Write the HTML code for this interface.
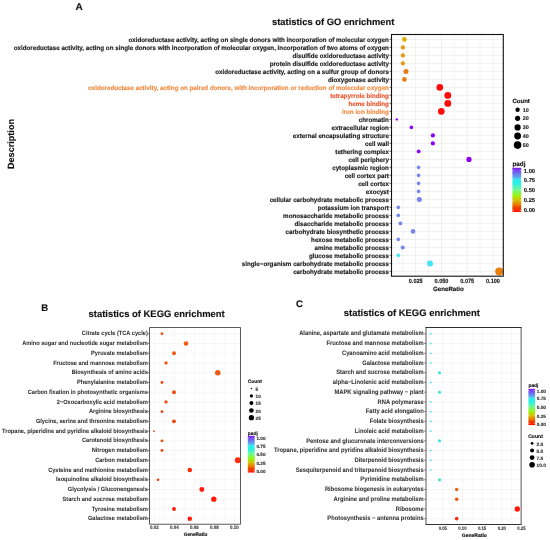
<!DOCTYPE html>
<html><head><meta charset="utf-8"><title>GO / KEGG enrichment</title>
<style>
html,body{margin:0;padding:0;background:#fff;}
body{width:550px;height:540px;overflow:hidden;}
svg{display:block;font-family:"Liberation Sans", Arial, Helvetica, sans-serif;}
#wrap{filter:blur(0.3px);}
text{stroke:currentColor;stroke-width:0.14px;text-rendering:geometricPrecision;}
</style></head>
<body>
<div id="wrap"><svg width="550" height="540" viewBox="0 0 550 540">
<rect x="0" y="0" width="550" height="540" fill="#fff"/>
<defs><linearGradient id="pg" x1="0" y1="0" x2="0" y2="1"><stop offset="0.000" stop-color="#8000f0"/><stop offset="0.017" stop-color="#7e23f0"/><stop offset="0.033" stop-color="#7c34f0"/><stop offset="0.050" stop-color="#7a41f0"/><stop offset="0.067" stop-color="#774cf0"/><stop offset="0.083" stop-color="#7457f0"/><stop offset="0.100" stop-color="#7060f0"/><stop offset="0.117" stop-color="#6f6bf0"/><stop offset="0.133" stop-color="#6e76f0"/><stop offset="0.150" stop-color="#6b81f0"/><stop offset="0.167" stop-color="#698cf0"/><stop offset="0.183" stop-color="#6596f0"/><stop offset="0.200" stop-color="#60a0f0"/><stop offset="0.217" stop-color="#5cb1f0"/><stop offset="0.233" stop-color="#55c1f0"/><stop offset="0.250" stop-color="#4bd2f0"/><stop offset="0.267" stop-color="#3ae3f0"/><stop offset="0.283" stop-color="#21f0ef"/><stop offset="0.300" stop-color="#25f0eb"/><stop offset="0.317" stop-color="#28f0e7"/><stop offset="0.333" stop-color="#2af0e3"/><stop offset="0.350" stop-color="#2df0df"/><stop offset="0.367" stop-color="#2ff0db"/><stop offset="0.383" stop-color="#33f0d6"/><stop offset="0.400" stop-color="#40f2cd"/><stop offset="0.417" stop-color="#4af3c4"/><stop offset="0.433" stop-color="#51f4ba"/><stop offset="0.450" stop-color="#58f6b1"/><stop offset="0.467" stop-color="#5df7a8"/><stop offset="0.483" stop-color="#62f89d"/><stop offset="0.500" stop-color="#6df88b"/><stop offset="0.517" stop-color="#75f879"/><stop offset="0.533" stop-color="#7bf865"/><stop offset="0.550" stop-color="#80f850"/><stop offset="0.567" stop-color="#87f747"/><stop offset="0.583" stop-color="#8df53d"/><stop offset="0.600" stop-color="#93f432"/><stop offset="0.617" stop-color="#99f224"/><stop offset="0.633" stop-color="#9ef10f"/><stop offset="0.650" stop-color="#a7eb00"/><stop offset="0.667" stop-color="#b1e200"/><stop offset="0.683" stop-color="#bad900"/><stop offset="0.700" stop-color="#c3d000"/><stop offset="0.717" stop-color="#cac700"/><stop offset="0.733" stop-color="#d1be00"/><stop offset="0.750" stop-color="#d8b300"/><stop offset="0.767" stop-color="#dea800"/><stop offset="0.783" stop-color="#e39c00"/><stop offset="0.800" stop-color="#e89000"/><stop offset="0.817" stop-color="#ea8500"/><stop offset="0.833" stop-color="#ec7900"/><stop offset="0.850" stop-color="#ed6d00"/><stop offset="0.867" stop-color="#ee6000"/><stop offset="0.883" stop-color="#ef5100"/><stop offset="0.900" stop-color="#f04000"/><stop offset="0.917" stop-color="#f33a00"/><stop offset="0.933" stop-color="#f53400"/><stop offset="0.950" stop-color="#f82d00"/><stop offset="0.967" stop-color="#fa2400"/><stop offset="0.983" stop-color="#fd1700"/><stop offset="1.000" stop-color="#ff0000"/></linearGradient></defs>
<line x1="402.82" y1="34.50" x2="402.82" y2="276.20" stroke="#e6e6e6" stroke-width="0.45"/>
<line x1="428.57" y1="34.50" x2="428.57" y2="276.20" stroke="#e6e6e6" stroke-width="0.45"/>
<line x1="454.32" y1="34.50" x2="454.32" y2="276.20" stroke="#e6e6e6" stroke-width="0.45"/>
<line x1="480.07" y1="34.50" x2="480.07" y2="276.20" stroke="#e6e6e6" stroke-width="0.45"/>
<line x1="415.70" y1="34.50" x2="415.70" y2="276.20" stroke="#e6e6e6" stroke-width="0.6"/>
<line x1="441.45" y1="34.50" x2="441.45" y2="276.20" stroke="#e6e6e6" stroke-width="0.6"/>
<line x1="467.20" y1="34.50" x2="467.20" y2="276.20" stroke="#e6e6e6" stroke-width="0.6"/>
<line x1="492.95" y1="34.50" x2="492.95" y2="276.20" stroke="#e6e6e6" stroke-width="0.6"/>
<line x1="391.50" y1="39.40" x2="503.30" y2="39.40" stroke="#e6e6e6" stroke-width="0.6"/>
<line x1="391.50" y1="47.40" x2="503.30" y2="47.40" stroke="#e6e6e6" stroke-width="0.6"/>
<line x1="391.50" y1="55.40" x2="503.30" y2="55.40" stroke="#e6e6e6" stroke-width="0.6"/>
<line x1="391.50" y1="63.40" x2="503.30" y2="63.40" stroke="#e6e6e6" stroke-width="0.6"/>
<line x1="391.50" y1="71.40" x2="503.30" y2="71.40" stroke="#e6e6e6" stroke-width="0.6"/>
<line x1="391.50" y1="79.40" x2="503.30" y2="79.40" stroke="#e6e6e6" stroke-width="0.6"/>
<line x1="391.50" y1="87.40" x2="503.30" y2="87.40" stroke="#e6e6e6" stroke-width="0.6"/>
<line x1="391.50" y1="95.40" x2="503.30" y2="95.40" stroke="#e6e6e6" stroke-width="0.6"/>
<line x1="391.50" y1="103.40" x2="503.30" y2="103.40" stroke="#e6e6e6" stroke-width="0.6"/>
<line x1="391.50" y1="111.40" x2="503.30" y2="111.40" stroke="#e6e6e6" stroke-width="0.6"/>
<line x1="391.50" y1="119.40" x2="503.30" y2="119.40" stroke="#e6e6e6" stroke-width="0.6"/>
<line x1="391.50" y1="127.40" x2="503.30" y2="127.40" stroke="#e6e6e6" stroke-width="0.6"/>
<line x1="391.50" y1="135.40" x2="503.30" y2="135.40" stroke="#e6e6e6" stroke-width="0.6"/>
<line x1="391.50" y1="143.40" x2="503.30" y2="143.40" stroke="#e6e6e6" stroke-width="0.6"/>
<line x1="391.50" y1="151.40" x2="503.30" y2="151.40" stroke="#e6e6e6" stroke-width="0.6"/>
<line x1="391.50" y1="159.40" x2="503.30" y2="159.40" stroke="#e6e6e6" stroke-width="0.6"/>
<line x1="391.50" y1="167.40" x2="503.30" y2="167.40" stroke="#e6e6e6" stroke-width="0.6"/>
<line x1="391.50" y1="175.40" x2="503.30" y2="175.40" stroke="#e6e6e6" stroke-width="0.6"/>
<line x1="391.50" y1="183.40" x2="503.30" y2="183.40" stroke="#e6e6e6" stroke-width="0.6"/>
<line x1="391.50" y1="191.40" x2="503.30" y2="191.40" stroke="#e6e6e6" stroke-width="0.6"/>
<line x1="391.50" y1="199.40" x2="503.30" y2="199.40" stroke="#e6e6e6" stroke-width="0.6"/>
<line x1="391.50" y1="207.40" x2="503.30" y2="207.40" stroke="#e6e6e6" stroke-width="0.6"/>
<line x1="391.50" y1="215.40" x2="503.30" y2="215.40" stroke="#e6e6e6" stroke-width="0.6"/>
<line x1="391.50" y1="223.40" x2="503.30" y2="223.40" stroke="#e6e6e6" stroke-width="0.6"/>
<line x1="391.50" y1="231.40" x2="503.30" y2="231.40" stroke="#e6e6e6" stroke-width="0.6"/>
<line x1="391.50" y1="239.40" x2="503.30" y2="239.40" stroke="#e6e6e6" stroke-width="0.6"/>
<line x1="391.50" y1="247.40" x2="503.30" y2="247.40" stroke="#e6e6e6" stroke-width="0.6"/>
<line x1="391.50" y1="255.40" x2="503.30" y2="255.40" stroke="#e6e6e6" stroke-width="0.6"/>
<line x1="391.50" y1="263.40" x2="503.30" y2="263.40" stroke="#e6e6e6" stroke-width="0.6"/>
<line x1="391.50" y1="271.40" x2="503.30" y2="271.40" stroke="#e6e6e6" stroke-width="0.6"/>
<circle cx="404.40" cy="39.40" r="2.35" fill="#d6b000"/>
<circle cx="402.90" cy="47.40" r="2.15" fill="#e39a12"/>
<circle cx="402.90" cy="55.40" r="2.15" fill="#e39a12"/>
<circle cx="402.90" cy="63.40" r="2.15" fill="#e39a12"/>
<circle cx="406.00" cy="71.40" r="2.50" fill="#e87a12"/>
<circle cx="404.40" cy="79.40" r="2.30" fill="#e87a12"/>
<circle cx="439.80" cy="87.40" r="3.30" fill="#ff0a0a"/>
<circle cx="447.80" cy="95.40" r="3.40" fill="#ff0a0a"/>
<circle cx="447.80" cy="103.40" r="3.40" fill="#ff0a0a"/>
<circle cx="441.30" cy="111.40" r="3.30" fill="#ff0a0a"/>
<circle cx="396.80" cy="119.40" r="1.20" fill="#8a00f5"/>
<circle cx="411.40" cy="127.40" r="1.80" fill="#8a00f5"/>
<circle cx="432.90" cy="135.40" r="2.10" fill="#8a00f5"/>
<circle cx="432.90" cy="143.40" r="2.10" fill="#8a00f5"/>
<circle cx="418.70" cy="151.40" r="1.90" fill="#8a00f5"/>
<circle cx="469.00" cy="159.40" r="2.60" fill="#8a00f5"/>
<circle cx="418.60" cy="167.40" r="1.80" fill="#7585f0"/>
<circle cx="418.60" cy="175.40" r="1.80" fill="#7585f0"/>
<circle cx="418.60" cy="183.40" r="1.80" fill="#7585f0"/>
<circle cx="418.60" cy="191.40" r="1.80" fill="#7585f0"/>
<circle cx="419.30" cy="199.40" r="2.50" fill="#7585f0"/>
<circle cx="398.30" cy="207.40" r="1.80" fill="#7585f0"/>
<circle cx="398.30" cy="215.40" r="1.80" fill="#7585f0"/>
<circle cx="400.40" cy="223.40" r="1.90" fill="#7585f0"/>
<circle cx="413.00" cy="231.40" r="2.30" fill="#7585f0"/>
<circle cx="398.30" cy="239.40" r="1.80" fill="#7585f0"/>
<circle cx="402.70" cy="247.40" r="2.00" fill="#7585f0"/>
<circle cx="398.30" cy="255.40" r="1.80" fill="#45e4f5"/>
<circle cx="430.00" cy="263.40" r="3.00" fill="#45e4f5"/>
<circle cx="499.20" cy="271.40" r="4.00" fill="#e8800a"/>
<rect x="391.50" y="34.50" width="111.80" height="241.70" fill="none" stroke="#111" stroke-width="1.1"/>
<line x1="389.50" y1="39.40" x2="391.50" y2="39.40" stroke="#111" stroke-width="0.6"/>
<text x="388.90" y="41.57" font-size="6.531" text-anchor="end" fill="#1a1a1a" color="#1a1a1a" font-weight="bold" textLength="260.48" lengthAdjust="spacingAndGlyphs">oxidoreductase activity, acting on single donors with incorporation of molecular oxygen</text>
<line x1="389.50" y1="47.40" x2="391.50" y2="47.40" stroke="#111" stroke-width="0.6"/>
<text x="388.90" y="49.57" font-size="6.531" text-anchor="end" fill="#1a1a1a" color="#1a1a1a" font-weight="bold" textLength="375.21" lengthAdjust="spacingAndGlyphs">oxidoreductase activity, acting on single donors with incorporation of molecular oxygen, incorporation of two atoms of oxygen</text>
<line x1="389.50" y1="55.40" x2="391.50" y2="55.40" stroke="#111" stroke-width="0.6"/>
<text x="388.90" y="57.57" font-size="6.531" text-anchor="end" fill="#1a1a1a" color="#1a1a1a" font-weight="bold" textLength="96.44" lengthAdjust="spacingAndGlyphs">disulfide oxidoreductase activity</text>
<line x1="389.50" y1="63.40" x2="391.50" y2="63.40" stroke="#111" stroke-width="0.6"/>
<text x="388.90" y="65.57" font-size="6.531" text-anchor="end" fill="#1a1a1a" color="#1a1a1a" font-weight="bold" textLength="119.25" lengthAdjust="spacingAndGlyphs">protein disulfide oxidoreductase activity</text>
<line x1="389.50" y1="71.40" x2="391.50" y2="71.40" stroke="#111" stroke-width="0.6"/>
<text x="388.90" y="73.57" font-size="6.531" text-anchor="end" fill="#1a1a1a" color="#1a1a1a" font-weight="bold" textLength="173.72" lengthAdjust="spacingAndGlyphs">oxidoreductase activity, acting on a sulfur group of donors</text>
<line x1="389.50" y1="79.40" x2="391.50" y2="79.40" stroke="#111" stroke-width="0.6"/>
<text x="388.90" y="81.57" font-size="6.531" text-anchor="end" fill="#1a1a1a" color="#1a1a1a" font-weight="bold" textLength="60.85" lengthAdjust="spacingAndGlyphs">dioxygenase activity</text>
<line x1="389.50" y1="87.40" x2="391.50" y2="87.40" stroke="#111" stroke-width="0.6"/>
<text x="388.90" y="89.57" font-size="6.531" text-anchor="end" fill="#f08c44" color="#f08c44" font-weight="bold" textLength="300.91" lengthAdjust="spacingAndGlyphs">oxidoreductase activity, acting on paired donors, with incorporation or reduction of molecular oxygen</text>
<line x1="389.50" y1="95.40" x2="391.50" y2="95.40" stroke="#111" stroke-width="0.6"/>
<text x="388.90" y="97.57" font-size="6.531" text-anchor="end" fill="#e8552c" color="#e8552c" font-weight="bold" textLength="58.75" lengthAdjust="spacingAndGlyphs">tetrapyrrole binding</text>
<line x1="389.50" y1="103.40" x2="391.50" y2="103.40" stroke="#111" stroke-width="0.6"/>
<text x="388.90" y="105.57" font-size="6.531" text-anchor="end" fill="#e8552c" color="#e8552c" font-weight="bold" textLength="40.43" lengthAdjust="spacingAndGlyphs">heme binding</text>
<line x1="389.50" y1="111.40" x2="391.50" y2="111.40" stroke="#111" stroke-width="0.6"/>
<text x="388.90" y="113.57" font-size="6.531" text-anchor="end" fill="#f08c44" color="#f08c44" font-weight="bold" textLength="46.98" lengthAdjust="spacingAndGlyphs">iron ion binding</text>
<line x1="389.50" y1="119.40" x2="391.50" y2="119.40" stroke="#111" stroke-width="0.6"/>
<text x="388.90" y="121.57" font-size="6.531" text-anchor="end" fill="#1a1a1a" color="#1a1a1a" font-weight="bold" textLength="30.07" lengthAdjust="spacingAndGlyphs">chromatin</text>
<line x1="389.50" y1="127.40" x2="391.50" y2="127.40" stroke="#111" stroke-width="0.6"/>
<text x="388.90" y="129.57" font-size="6.531" text-anchor="end" fill="#1a1a1a" color="#1a1a1a" font-weight="bold" textLength="57.39" lengthAdjust="spacingAndGlyphs">extracellular region</text>
<line x1="389.50" y1="135.40" x2="391.50" y2="135.40" stroke="#111" stroke-width="0.6"/>
<text x="388.90" y="137.57" font-size="6.531" text-anchor="end" fill="#1a1a1a" color="#1a1a1a" font-weight="bold" textLength="96.1" lengthAdjust="spacingAndGlyphs">external encapsulating structure</text>
<line x1="389.50" y1="143.40" x2="391.50" y2="143.40" stroke="#111" stroke-width="0.6"/>
<text x="388.90" y="145.57" font-size="6.531" text-anchor="end" fill="#1a1a1a" color="#1a1a1a" font-weight="bold" textLength="23.86" lengthAdjust="spacingAndGlyphs">cell wall</text>
<line x1="389.50" y1="151.40" x2="391.50" y2="151.40" stroke="#111" stroke-width="0.6"/>
<text x="388.90" y="153.57" font-size="6.531" text-anchor="end" fill="#1a1a1a" color="#1a1a1a" font-weight="bold" textLength="53.57" lengthAdjust="spacingAndGlyphs">tethering complex</text>
<line x1="389.50" y1="159.40" x2="391.50" y2="159.40" stroke="#111" stroke-width="0.6"/>
<text x="388.90" y="161.57" font-size="6.531" text-anchor="end" fill="#1a1a1a" color="#1a1a1a" font-weight="bold" textLength="40.45" lengthAdjust="spacingAndGlyphs">cell periphery</text>
<line x1="389.50" y1="167.40" x2="391.50" y2="167.40" stroke="#111" stroke-width="0.6"/>
<text x="388.90" y="169.57" font-size="6.531" text-anchor="end" fill="#1a1a1a" color="#1a1a1a" font-weight="bold" textLength="56.69" lengthAdjust="spacingAndGlyphs">cytoplasmic region</text>
<line x1="389.50" y1="175.40" x2="391.50" y2="175.40" stroke="#111" stroke-width="0.6"/>
<text x="388.90" y="177.57" font-size="6.531" text-anchor="end" fill="#1a1a1a" color="#1a1a1a" font-weight="bold" textLength="44.25" lengthAdjust="spacingAndGlyphs">cell cortex part</text>
<line x1="389.50" y1="183.40" x2="391.50" y2="183.40" stroke="#111" stroke-width="0.6"/>
<text x="388.90" y="185.57" font-size="6.531" text-anchor="end" fill="#1a1a1a" color="#1a1a1a" font-weight="bold" textLength="30.77" lengthAdjust="spacingAndGlyphs">cell cortex</text>
<line x1="389.50" y1="191.40" x2="391.50" y2="191.40" stroke="#111" stroke-width="0.6"/>
<text x="388.90" y="193.57" font-size="6.531" text-anchor="end" fill="#1a1a1a" color="#1a1a1a" font-weight="bold" textLength="23.17" lengthAdjust="spacingAndGlyphs">exocyst</text>
<line x1="389.50" y1="199.40" x2="391.50" y2="199.40" stroke="#111" stroke-width="0.6"/>
<text x="388.90" y="201.57" font-size="6.531" text-anchor="end" fill="#1a1a1a" color="#1a1a1a" font-weight="bold" textLength="119.27" lengthAdjust="spacingAndGlyphs">cellular carbohydrate metabolic process</text>
<line x1="389.50" y1="207.40" x2="391.50" y2="207.40" stroke="#111" stroke-width="0.6"/>
<text x="388.90" y="209.57" font-size="6.531" text-anchor="end" fill="#1a1a1a" color="#1a1a1a" font-weight="bold" textLength="71.19" lengthAdjust="spacingAndGlyphs">potassium ion transport</text>
<line x1="389.50" y1="215.40" x2="391.50" y2="215.40" stroke="#111" stroke-width="0.6"/>
<text x="388.90" y="217.57" font-size="6.531" text-anchor="end" fill="#1a1a1a" color="#1a1a1a" font-weight="bold" textLength="105.78" lengthAdjust="spacingAndGlyphs">monosaccharide metabolic process</text>
<line x1="389.50" y1="223.40" x2="391.50" y2="223.40" stroke="#111" stroke-width="0.6"/>
<text x="388.90" y="225.57" font-size="6.531" text-anchor="end" fill="#1a1a1a" color="#1a1a1a" font-weight="bold" textLength="94.38" lengthAdjust="spacingAndGlyphs">disaccharide metabolic process</text>
<line x1="389.50" y1="231.40" x2="391.50" y2="231.40" stroke="#111" stroke-width="0.6"/>
<text x="388.90" y="233.57" font-size="6.531" text-anchor="end" fill="#1a1a1a" color="#1a1a1a" font-weight="bold" textLength="103.36" lengthAdjust="spacingAndGlyphs">carbohydrate biosynthetic process</text>
<line x1="389.50" y1="239.40" x2="391.50" y2="239.40" stroke="#111" stroke-width="0.6"/>
<text x="388.90" y="241.57" font-size="6.531" text-anchor="end" fill="#1a1a1a" color="#1a1a1a" font-weight="bold" textLength="77.78" lengthAdjust="spacingAndGlyphs">hexose metabolic process</text>
<line x1="389.50" y1="247.40" x2="391.50" y2="247.40" stroke="#111" stroke-width="0.6"/>
<text x="388.90" y="249.57" font-size="6.531" text-anchor="end" fill="#1a1a1a" color="#1a1a1a" font-weight="bold" textLength="74.33" lengthAdjust="spacingAndGlyphs">amine metabolic process</text>
<line x1="389.50" y1="255.40" x2="391.50" y2="255.40" stroke="#111" stroke-width="0.6"/>
<text x="388.90" y="257.57" font-size="6.531" text-anchor="end" fill="#1a1a1a" color="#1a1a1a" font-weight="bold" textLength="79.85" lengthAdjust="spacingAndGlyphs">glucose metabolic process</text>
<line x1="389.50" y1="263.40" x2="391.50" y2="263.40" stroke="#111" stroke-width="0.6"/>
<text x="388.90" y="265.57" font-size="6.531" text-anchor="end" fill="#1a1a1a" color="#1a1a1a" font-weight="bold" textLength="147.09" lengthAdjust="spacingAndGlyphs">single−organism carbohydrate metabolic process</text>
<line x1="389.50" y1="271.40" x2="391.50" y2="271.40" stroke="#111" stroke-width="0.6"/>
<text x="388.90" y="273.57" font-size="6.531" text-anchor="end" fill="#1a1a1a" color="#1a1a1a" font-weight="bold" textLength="95.76" lengthAdjust="spacingAndGlyphs">carbohydrate metabolic process</text>
<text x="415.70" y="282.67" font-size="6.1" text-anchor="middle" fill="#1a1a1a" color="#1a1a1a" font-weight="bold" textLength="13.8" lengthAdjust="spacingAndGlyphs">0.025</text>
<text x="441.45" y="282.67" font-size="6.1" text-anchor="middle" fill="#1a1a1a" color="#1a1a1a" font-weight="bold" textLength="13.8" lengthAdjust="spacingAndGlyphs">0.050</text>
<text x="467.20" y="282.67" font-size="6.1" text-anchor="middle" fill="#1a1a1a" color="#1a1a1a" font-weight="bold" textLength="13.8" lengthAdjust="spacingAndGlyphs">0.075</text>
<text x="492.95" y="282.67" font-size="6.1" text-anchor="middle" fill="#1a1a1a" color="#1a1a1a" font-weight="bold" textLength="13.8" lengthAdjust="spacingAndGlyphs">0.100</text>
<text x="448.40" y="290.71" font-size="6.2" text-anchor="middle" fill="#111" color="#111" font-weight="bold">GeneRatio</text>
<text x="272.00" y="24.80" font-size="9.4" text-anchor="start" fill="#111" color="#111" font-weight="bold">statistics of GO enrichment</text>
<line x1="164.40" y1="327.60" x2="164.40" y2="524.20" stroke="#eeeeee" stroke-width="0.35"/>
<line x1="184.40" y1="327.60" x2="184.40" y2="524.20" stroke="#eeeeee" stroke-width="0.35"/>
<line x1="204.40" y1="327.60" x2="204.40" y2="524.20" stroke="#eeeeee" stroke-width="0.35"/>
<line x1="224.40" y1="327.60" x2="224.40" y2="524.20" stroke="#eeeeee" stroke-width="0.35"/>
<line x1="154.40" y1="327.60" x2="154.40" y2="524.20" stroke="#eeeeee" stroke-width="0.5"/>
<line x1="174.40" y1="327.60" x2="174.40" y2="524.20" stroke="#eeeeee" stroke-width="0.5"/>
<line x1="194.40" y1="327.60" x2="194.40" y2="524.20" stroke="#eeeeee" stroke-width="0.5"/>
<line x1="214.40" y1="327.60" x2="214.40" y2="524.20" stroke="#eeeeee" stroke-width="0.5"/>
<line x1="234.40" y1="327.60" x2="234.40" y2="524.20" stroke="#eeeeee" stroke-width="0.5"/>
<line x1="149.60" y1="333.80" x2="240.40" y2="333.80" stroke="#eeeeee" stroke-width="0.5"/>
<line x1="149.60" y1="343.53" x2="240.40" y2="343.53" stroke="#eeeeee" stroke-width="0.5"/>
<line x1="149.60" y1="353.26" x2="240.40" y2="353.26" stroke="#eeeeee" stroke-width="0.5"/>
<line x1="149.60" y1="362.99" x2="240.40" y2="362.99" stroke="#eeeeee" stroke-width="0.5"/>
<line x1="149.60" y1="372.72" x2="240.40" y2="372.72" stroke="#eeeeee" stroke-width="0.5"/>
<line x1="149.60" y1="382.45" x2="240.40" y2="382.45" stroke="#eeeeee" stroke-width="0.5"/>
<line x1="149.60" y1="392.18" x2="240.40" y2="392.18" stroke="#eeeeee" stroke-width="0.5"/>
<line x1="149.60" y1="401.91" x2="240.40" y2="401.91" stroke="#eeeeee" stroke-width="0.5"/>
<line x1="149.60" y1="411.64" x2="240.40" y2="411.64" stroke="#eeeeee" stroke-width="0.5"/>
<line x1="149.60" y1="421.37" x2="240.40" y2="421.37" stroke="#eeeeee" stroke-width="0.5"/>
<line x1="149.60" y1="431.10" x2="240.40" y2="431.10" stroke="#eeeeee" stroke-width="0.5"/>
<line x1="149.60" y1="440.83" x2="240.40" y2="440.83" stroke="#eeeeee" stroke-width="0.5"/>
<line x1="149.60" y1="450.56" x2="240.40" y2="450.56" stroke="#eeeeee" stroke-width="0.5"/>
<line x1="149.60" y1="460.29" x2="240.40" y2="460.29" stroke="#eeeeee" stroke-width="0.5"/>
<line x1="149.60" y1="470.02" x2="240.40" y2="470.02" stroke="#eeeeee" stroke-width="0.5"/>
<line x1="149.60" y1="479.75" x2="240.40" y2="479.75" stroke="#eeeeee" stroke-width="0.5"/>
<line x1="149.60" y1="489.48" x2="240.40" y2="489.48" stroke="#eeeeee" stroke-width="0.5"/>
<line x1="149.60" y1="499.21" x2="240.40" y2="499.21" stroke="#eeeeee" stroke-width="0.5"/>
<line x1="149.60" y1="508.94" x2="240.40" y2="508.94" stroke="#eeeeee" stroke-width="0.5"/>
<line x1="149.60" y1="518.67" x2="240.40" y2="518.67" stroke="#eeeeee" stroke-width="0.5"/>
<circle cx="162.00" cy="333.80" r="1.45" fill="#ee5a12"/>
<circle cx="186.00" cy="343.53" r="2.25" fill="#ee5a12"/>
<circle cx="174.00" cy="353.26" r="1.95" fill="#ee5a12"/>
<circle cx="166.00" cy="362.99" r="1.65" fill="#ee5a12"/>
<circle cx="217.80" cy="372.72" r="2.75" fill="#ee5a12"/>
<circle cx="162.00" cy="382.45" r="1.45" fill="#f2480e"/>
<circle cx="174.00" cy="392.18" r="1.95" fill="#f2480e"/>
<circle cx="166.00" cy="401.91" r="1.65" fill="#f2480e"/>
<circle cx="162.00" cy="411.64" r="1.45" fill="#f2480e"/>
<circle cx="174.00" cy="421.37" r="1.95" fill="#f2480e"/>
<circle cx="154.00" cy="431.10" r="0.95" fill="#f2480e"/>
<circle cx="162.00" cy="440.83" r="1.45" fill="#f2480e"/>
<circle cx="162.00" cy="450.56" r="1.45" fill="#f2480e"/>
<circle cx="237.80" cy="460.29" r="2.95" fill="#ff2a0a"/>
<circle cx="189.80" cy="470.02" r="2.25" fill="#ff2a0a"/>
<circle cx="158.00" cy="479.75" r="1.25" fill="#ff2a0a"/>
<circle cx="201.80" cy="489.48" r="2.45" fill="#ff1a08"/>
<circle cx="213.80" cy="499.21" r="2.65" fill="#ff1a08"/>
<circle cx="174.00" cy="508.94" r="1.95" fill="#ff1a08"/>
<circle cx="189.80" cy="518.67" r="2.25" fill="#ff1a08"/>
<rect x="149.60" y="327.60" width="90.80" height="196.60" fill="none" stroke="#333" stroke-width="0.8"/>
<line x1="147.80" y1="333.80" x2="149.60" y2="333.80" stroke="#333" stroke-width="0.6"/>
<text x="147.80" y="335.41" font-size="6.204" text-anchor="end" fill="#333" color="#333" font-weight="bold" style="stroke-width:0.05px" textLength="65.93" lengthAdjust="spacingAndGlyphs">Citrate cycle (TCA cycle)</text>
<line x1="147.80" y1="343.53" x2="149.60" y2="343.53" stroke="#333" stroke-width="0.6"/>
<text x="147.80" y="345.14" font-size="6.204" text-anchor="end" fill="#333" color="#333" font-weight="bold" style="stroke-width:0.05px" textLength="125.67" lengthAdjust="spacingAndGlyphs">Amino sugar and nucleotide sugar metabolism</text>
<line x1="147.80" y1="353.26" x2="149.60" y2="353.26" stroke="#333" stroke-width="0.6"/>
<text x="147.80" y="354.87" font-size="6.204" text-anchor="end" fill="#333" color="#333" font-weight="bold" style="stroke-width:0.05px" textLength="56.74" lengthAdjust="spacingAndGlyphs">Pyruvate metabolism</text>
<line x1="147.80" y1="362.99" x2="149.60" y2="362.99" stroke="#333" stroke-width="0.6"/>
<text x="147.80" y="364.60" font-size="6.204" text-anchor="end" fill="#333" color="#333" font-weight="bold" style="stroke-width:0.05px" textLength="94.65" lengthAdjust="spacingAndGlyphs">Fructose and mannose metabolism</text>
<line x1="147.80" y1="372.72" x2="149.60" y2="372.72" stroke="#333" stroke-width="0.6"/>
<text x="147.80" y="374.33" font-size="6.204" text-anchor="end" fill="#333" color="#333" font-weight="bold" style="stroke-width:0.05px" textLength="76.16" lengthAdjust="spacingAndGlyphs">Biosynthesis of amino acids</text>
<line x1="147.80" y1="382.45" x2="149.60" y2="382.45" stroke="#333" stroke-width="0.6"/>
<text x="147.80" y="384.06" font-size="6.204" text-anchor="end" fill="#333" color="#333" font-weight="bold" style="stroke-width:0.05px" textLength="70.84" lengthAdjust="spacingAndGlyphs">Phenylalanine metabolism</text>
<line x1="147.80" y1="392.18" x2="149.60" y2="392.18" stroke="#333" stroke-width="0.6"/>
<text x="147.80" y="393.79" font-size="6.204" text-anchor="end" fill="#333" color="#333" font-weight="bold" style="stroke-width:0.05px" textLength="120.02" lengthAdjust="spacingAndGlyphs">Carbon fixation in photosynthetic organisms</text>
<line x1="147.80" y1="401.91" x2="149.60" y2="401.91" stroke="#333" stroke-width="0.6"/>
<text x="147.80" y="403.52" font-size="6.204" text-anchor="end" fill="#333" color="#333" font-weight="bold" style="stroke-width:0.05px" textLength="91.06" lengthAdjust="spacingAndGlyphs">2−Oxocarboxylic acid metabolism</text>
<line x1="147.80" y1="411.64" x2="149.60" y2="411.64" stroke="#333" stroke-width="0.6"/>
<text x="147.80" y="413.25" font-size="6.204" text-anchor="end" fill="#333" color="#333" font-weight="bold" style="stroke-width:0.05px" textLength="58.92" lengthAdjust="spacingAndGlyphs">Arginine biosynthesis</text>
<line x1="147.80" y1="421.37" x2="149.60" y2="421.37" stroke="#333" stroke-width="0.6"/>
<text x="147.80" y="422.98" font-size="6.204" text-anchor="end" fill="#333" color="#333" font-weight="bold" style="stroke-width:0.05px" textLength="111.89" lengthAdjust="spacingAndGlyphs">Glycine, serine and threonine metabolism</text>
<line x1="147.80" y1="431.10" x2="149.60" y2="431.10" stroke="#333" stroke-width="0.6"/>
<text x="147.80" y="432.71" font-size="6.204" text-anchor="end" fill="#333" color="#333" font-weight="bold" style="stroke-width:0.05px" textLength="145.73" lengthAdjust="spacingAndGlyphs">Tropane, piperidine and pyridine alkaloid biosynthesis</text>
<line x1="147.80" y1="440.83" x2="149.60" y2="440.83" stroke="#333" stroke-width="0.6"/>
<text x="147.80" y="442.44" font-size="6.204" text-anchor="end" fill="#333" color="#333" font-weight="bold" style="stroke-width:0.05px" textLength="65.81" lengthAdjust="spacingAndGlyphs">Carotenoid biosynthesis</text>
<line x1="147.80" y1="450.56" x2="149.60" y2="450.56" stroke="#333" stroke-width="0.6"/>
<text x="147.80" y="452.17" font-size="6.204" text-anchor="end" fill="#333" color="#333" font-weight="bold" style="stroke-width:0.05px" textLength="56.1" lengthAdjust="spacingAndGlyphs">Nitrogen metabolism</text>
<line x1="147.80" y1="460.29" x2="149.60" y2="460.29" stroke="#333" stroke-width="0.6"/>
<text x="147.80" y="461.90" font-size="6.204" text-anchor="end" fill="#333" color="#333" font-weight="bold" style="stroke-width:0.05px" textLength="52.65" lengthAdjust="spacingAndGlyphs">Carbon metabolism</text>
<line x1="147.80" y1="470.02" x2="149.60" y2="470.02" stroke="#333" stroke-width="0.6"/>
<text x="147.80" y="471.63" font-size="6.204" text-anchor="end" fill="#333" color="#333" font-weight="bold" style="stroke-width:0.05px" textLength="99.66" lengthAdjust="spacingAndGlyphs">Cysteine and methionine metabolism</text>
<line x1="147.80" y1="479.75" x2="149.60" y2="479.75" stroke="#333" stroke-width="0.6"/>
<text x="147.80" y="481.36" font-size="6.204" text-anchor="end" fill="#333" color="#333" font-weight="bold" style="stroke-width:0.05px" textLength="91.82" lengthAdjust="spacingAndGlyphs">Isoquinoline alkaloid biosynthesis</text>
<line x1="147.80" y1="489.48" x2="149.60" y2="489.48" stroke="#333" stroke-width="0.6"/>
<text x="147.80" y="491.09" font-size="6.204" text-anchor="end" fill="#333" color="#333" font-weight="bold" style="stroke-width:0.05px" textLength="79.93" lengthAdjust="spacingAndGlyphs">Glycolysis / Gluconeogenesis</text>
<line x1="147.80" y1="499.21" x2="149.60" y2="499.21" stroke="#333" stroke-width="0.6"/>
<text x="147.80" y="500.82" font-size="6.204" text-anchor="end" fill="#333" color="#333" font-weight="bold" style="stroke-width:0.05px" textLength="85.26" lengthAdjust="spacingAndGlyphs">Starch and sucrose metabolism</text>
<line x1="147.80" y1="508.94" x2="149.60" y2="508.94" stroke="#333" stroke-width="0.6"/>
<text x="147.80" y="510.55" font-size="6.204" text-anchor="end" fill="#333" color="#333" font-weight="bold" style="stroke-width:0.05px" textLength="56.0" lengthAdjust="spacingAndGlyphs">Tyrosine metabolism</text>
<line x1="147.80" y1="518.67" x2="149.60" y2="518.67" stroke="#333" stroke-width="0.6"/>
<text x="147.80" y="520.28" font-size="6.204" text-anchor="end" fill="#333" color="#333" font-weight="bold" style="stroke-width:0.05px" textLength="59.87" lengthAdjust="spacingAndGlyphs">Galactose metabolism</text>
<text x="154.40" y="529.20" font-size="5.0" text-anchor="middle" fill="#3a3a3a" color="#3a3a3a" font-weight="bold" textLength="8.6" lengthAdjust="spacingAndGlyphs">0.02</text>
<text x="174.40" y="529.20" font-size="5.0" text-anchor="middle" fill="#3a3a3a" color="#3a3a3a" font-weight="bold" textLength="8.6" lengthAdjust="spacingAndGlyphs">0.04</text>
<text x="194.40" y="529.20" font-size="5.0" text-anchor="middle" fill="#3a3a3a" color="#3a3a3a" font-weight="bold" textLength="8.6" lengthAdjust="spacingAndGlyphs">0.06</text>
<text x="214.40" y="529.20" font-size="5.0" text-anchor="middle" fill="#3a3a3a" color="#3a3a3a" font-weight="bold" textLength="8.6" lengthAdjust="spacingAndGlyphs">0.08</text>
<text x="234.40" y="529.20" font-size="5.0" text-anchor="middle" fill="#3a3a3a" color="#3a3a3a" font-weight="bold" textLength="8.6" lengthAdjust="spacingAndGlyphs">0.10</text>
<text x="195.60" y="535.70" font-size="5.0" text-anchor="middle" fill="#111" color="#111" font-weight="bold" textLength="23.8" lengthAdjust="spacingAndGlyphs">GeneRatio</text>
<text x="88.60" y="317.11" font-size="9.44" text-anchor="start" fill="#111" color="#111" font-weight="bold">statistics of KEGG enrichment</text>
<line x1="452.62" y1="327.50" x2="452.62" y2="524.50" stroke="#ececec" stroke-width="0.35"/>
<line x1="472.28" y1="327.50" x2="472.28" y2="524.50" stroke="#ececec" stroke-width="0.35"/>
<line x1="491.93" y1="327.50" x2="491.93" y2="524.50" stroke="#ececec" stroke-width="0.35"/>
<line x1="511.57" y1="327.50" x2="511.57" y2="524.50" stroke="#ececec" stroke-width="0.35"/>
<line x1="442.80" y1="327.50" x2="442.80" y2="524.50" stroke="#ececec" stroke-width="0.5"/>
<line x1="462.45" y1="327.50" x2="462.45" y2="524.50" stroke="#ececec" stroke-width="0.5"/>
<line x1="482.10" y1="327.50" x2="482.10" y2="524.50" stroke="#ececec" stroke-width="0.5"/>
<line x1="501.75" y1="327.50" x2="501.75" y2="524.50" stroke="#ececec" stroke-width="0.5"/>
<line x1="521.40" y1="327.50" x2="521.40" y2="524.50" stroke="#ececec" stroke-width="0.5"/>
<line x1="426.00" y1="333.80" x2="521.10" y2="333.80" stroke="#ececec" stroke-width="0.5"/>
<line x1="426.00" y1="343.53" x2="521.10" y2="343.53" stroke="#ececec" stroke-width="0.5"/>
<line x1="426.00" y1="353.26" x2="521.10" y2="353.26" stroke="#ececec" stroke-width="0.5"/>
<line x1="426.00" y1="362.99" x2="521.10" y2="362.99" stroke="#ececec" stroke-width="0.5"/>
<line x1="426.00" y1="372.72" x2="521.10" y2="372.72" stroke="#ececec" stroke-width="0.5"/>
<line x1="426.00" y1="382.45" x2="521.10" y2="382.45" stroke="#ececec" stroke-width="0.5"/>
<line x1="426.00" y1="392.18" x2="521.10" y2="392.18" stroke="#ececec" stroke-width="0.5"/>
<line x1="426.00" y1="401.91" x2="521.10" y2="401.91" stroke="#ececec" stroke-width="0.5"/>
<line x1="426.00" y1="411.64" x2="521.10" y2="411.64" stroke="#ececec" stroke-width="0.5"/>
<line x1="426.00" y1="421.37" x2="521.10" y2="421.37" stroke="#ececec" stroke-width="0.5"/>
<line x1="426.00" y1="431.10" x2="521.10" y2="431.10" stroke="#ececec" stroke-width="0.5"/>
<line x1="426.00" y1="440.83" x2="521.10" y2="440.83" stroke="#ececec" stroke-width="0.5"/>
<line x1="426.00" y1="450.56" x2="521.10" y2="450.56" stroke="#ececec" stroke-width="0.5"/>
<line x1="426.00" y1="460.29" x2="521.10" y2="460.29" stroke="#ececec" stroke-width="0.5"/>
<line x1="426.00" y1="470.02" x2="521.10" y2="470.02" stroke="#ececec" stroke-width="0.5"/>
<line x1="426.00" y1="479.75" x2="521.10" y2="479.75" stroke="#ececec" stroke-width="0.5"/>
<line x1="426.00" y1="489.48" x2="521.10" y2="489.48" stroke="#ececec" stroke-width="0.5"/>
<line x1="426.00" y1="499.21" x2="521.10" y2="499.21" stroke="#ececec" stroke-width="0.5"/>
<line x1="426.00" y1="508.94" x2="521.10" y2="508.94" stroke="#ececec" stroke-width="0.5"/>
<line x1="426.00" y1="518.67" x2="521.10" y2="518.67" stroke="#ececec" stroke-width="0.5"/>
<circle cx="430.70" cy="333.80" r="0.85" fill="#2ee6d8"/>
<circle cx="430.70" cy="343.53" r="0.85" fill="#2ee6d8"/>
<circle cx="430.70" cy="353.26" r="0.85" fill="#2ee6d8"/>
<circle cx="430.70" cy="362.99" r="0.85" fill="#2ee6d8"/>
<circle cx="439.50" cy="372.72" r="1.50" fill="#2ee6d8"/>
<circle cx="430.70" cy="382.45" r="0.85" fill="#2ee6d8"/>
<circle cx="439.50" cy="392.18" r="1.50" fill="#2ee6d8"/>
<circle cx="430.70" cy="401.91" r="0.85" fill="#2ee6d8"/>
<circle cx="430.70" cy="411.64" r="0.85" fill="#2ee6d8"/>
<circle cx="430.70" cy="421.37" r="0.85" fill="#2ee6d8"/>
<circle cx="430.70" cy="431.10" r="0.85" fill="#2ee6d8"/>
<circle cx="439.50" cy="440.83" r="1.50" fill="#2ee6d8"/>
<circle cx="430.70" cy="450.56" r="0.85" fill="#2ee6d8"/>
<circle cx="430.70" cy="460.29" r="0.85" fill="#2ee6d8"/>
<circle cx="430.70" cy="470.02" r="0.85" fill="#2ee6d8"/>
<circle cx="439.50" cy="479.75" r="1.50" fill="#2ee6d8"/>
<circle cx="456.70" cy="489.48" r="1.80" fill="#ea6a18"/>
<circle cx="456.70" cy="499.21" r="1.80" fill="#ee5a16"/>
<circle cx="517.30" cy="508.94" r="2.70" fill="#ff1a0a"/>
<circle cx="456.70" cy="518.67" r="1.80" fill="#f82a10"/>
<rect x="426.00" y="327.50" width="95.10" height="197.00" fill="none" stroke="#333" stroke-width="0.8"/>
<line x1="425.60" y1="327.50" x2="521.50" y2="327.50" stroke="#222" stroke-width="0.8"/>
<line x1="425.60" y1="524.50" x2="521.50" y2="524.50" stroke="#2a2a2a" stroke-width="0.8"/>
<line x1="424.20" y1="333.80" x2="426.00" y2="333.80" stroke="#333" stroke-width="0.6"/>
<text x="423.70" y="335.47" font-size="6.369" text-anchor="end" fill="#333" color="#333" font-weight="bold" style="stroke-width:0.05px" textLength="124.52" lengthAdjust="spacingAndGlyphs">Alanine, aspartate and glutamate metabolism</text>
<line x1="424.20" y1="343.53" x2="426.00" y2="343.53" stroke="#333" stroke-width="0.6"/>
<text x="423.70" y="345.20" font-size="6.369" text-anchor="end" fill="#333" color="#333" font-weight="bold" style="stroke-width:0.05px" textLength="97.17" lengthAdjust="spacingAndGlyphs">Fructose and mannose metabolism</text>
<line x1="424.20" y1="353.26" x2="426.00" y2="353.26" stroke="#333" stroke-width="0.6"/>
<text x="423.70" y="354.93" font-size="6.369" text-anchor="end" fill="#333" color="#333" font-weight="bold" style="stroke-width:0.05px" textLength="81.73" lengthAdjust="spacingAndGlyphs">Cyanoamino acid metabolism</text>
<line x1="424.20" y1="362.99" x2="426.00" y2="362.99" stroke="#333" stroke-width="0.6"/>
<text x="423.70" y="364.66" font-size="6.369" text-anchor="end" fill="#333" color="#333" font-weight="bold" style="stroke-width:0.05px" textLength="61.46" lengthAdjust="spacingAndGlyphs">Galactose metabolism</text>
<line x1="424.20" y1="372.72" x2="426.00" y2="372.72" stroke="#333" stroke-width="0.6"/>
<text x="423.70" y="374.39" font-size="6.369" text-anchor="end" fill="#333" color="#333" font-weight="bold" style="stroke-width:0.05px" textLength="87.52" lengthAdjust="spacingAndGlyphs">Starch and sucrose metabolism</text>
<line x1="424.20" y1="382.45" x2="426.00" y2="382.45" stroke="#333" stroke-width="0.6"/>
<text x="423.70" y="384.12" font-size="6.369" text-anchor="end" fill="#333" color="#333" font-weight="bold" style="stroke-width:0.05px" textLength="90.9" lengthAdjust="spacingAndGlyphs">alpha−Linolenic acid metabolism</text>
<line x1="424.20" y1="392.18" x2="426.00" y2="392.18" stroke="#333" stroke-width="0.6"/>
<text x="423.70" y="393.85" font-size="6.369" text-anchor="end" fill="#333" color="#333" font-weight="bold" style="stroke-width:0.05px" textLength="89.27" lengthAdjust="spacingAndGlyphs">MAPK signaling pathway − plant</text>
<line x1="424.20" y1="401.91" x2="426.00" y2="401.91" stroke="#333" stroke-width="0.6"/>
<text x="423.70" y="403.58" font-size="6.369" text-anchor="end" fill="#333" color="#333" font-weight="bold" style="stroke-width:0.05px" textLength="46.12" lengthAdjust="spacingAndGlyphs">RNA polymerase</text>
<line x1="424.20" y1="411.64" x2="426.00" y2="411.64" stroke="#333" stroke-width="0.6"/>
<text x="423.70" y="413.31" font-size="6.369" text-anchor="end" fill="#333" color="#333" font-weight="bold" style="stroke-width:0.05px" textLength="57.91" lengthAdjust="spacingAndGlyphs">Fatty acid elongation</text>
<line x1="424.20" y1="421.37" x2="426.00" y2="421.37" stroke="#333" stroke-width="0.6"/>
<text x="423.70" y="423.04" font-size="6.369" text-anchor="end" fill="#333" color="#333" font-weight="bold" style="stroke-width:0.05px" textLength="54.05" lengthAdjust="spacingAndGlyphs">Folate biosynthesis</text>
<line x1="424.20" y1="431.10" x2="426.00" y2="431.10" stroke="#333" stroke-width="0.6"/>
<text x="423.70" y="432.77" font-size="6.369" text-anchor="end" fill="#333" color="#333" font-weight="bold" style="stroke-width:0.05px" textLength="68.86" lengthAdjust="spacingAndGlyphs">Linoleic acid metabolism</text>
<line x1="424.20" y1="440.83" x2="426.00" y2="440.83" stroke="#333" stroke-width="0.6"/>
<text x="423.70" y="442.50" font-size="6.369" text-anchor="end" fill="#333" color="#333" font-weight="bold" style="stroke-width:0.05px" textLength="117.44" lengthAdjust="spacingAndGlyphs">Pentose and glucuronate interconversions</text>
<line x1="424.20" y1="450.56" x2="426.00" y2="450.56" stroke="#333" stroke-width="0.6"/>
<text x="423.70" y="452.23" font-size="6.369" text-anchor="end" fill="#333" color="#333" font-weight="bold" style="stroke-width:0.05px" textLength="149.61" lengthAdjust="spacingAndGlyphs">Tropane, piperidine and pyridine alkaloid biosynthesis</text>
<line x1="424.20" y1="460.29" x2="426.00" y2="460.29" stroke="#333" stroke-width="0.6"/>
<text x="423.70" y="461.96" font-size="6.369" text-anchor="end" fill="#333" color="#333" font-weight="bold" style="stroke-width:0.05px" textLength="69.17" lengthAdjust="spacingAndGlyphs">Diterpenoid biosynthesis</text>
<line x1="424.20" y1="470.02" x2="426.00" y2="470.02" stroke="#333" stroke-width="0.6"/>
<text x="423.70" y="471.69" font-size="6.369" text-anchor="end" fill="#333" color="#333" font-weight="bold" style="stroke-width:0.05px" textLength="128.04" lengthAdjust="spacingAndGlyphs">Sesquiterpenoid and triterpenoid biosynthesis</text>
<line x1="424.20" y1="479.75" x2="426.00" y2="479.75" stroke="#333" stroke-width="0.6"/>
<text x="423.70" y="481.42" font-size="6.369" text-anchor="end" fill="#333" color="#333" font-weight="bold" style="stroke-width:0.05px" textLength="63.39" lengthAdjust="spacingAndGlyphs">Pyrimidine metabolism</text>
<line x1="424.20" y1="489.48" x2="426.00" y2="489.48" stroke="#333" stroke-width="0.6"/>
<text x="423.70" y="491.15" font-size="6.369" text-anchor="end" fill="#333" color="#333" font-weight="bold" style="stroke-width:0.05px" textLength="98.78" lengthAdjust="spacingAndGlyphs">Ribosome biogenesis in eukaryotes</text>
<line x1="424.20" y1="499.21" x2="426.00" y2="499.21" stroke="#333" stroke-width="0.6"/>
<text x="423.70" y="500.88" font-size="6.369" text-anchor="end" fill="#333" color="#333" font-weight="bold" style="stroke-width:0.05px" textLength="90.08" lengthAdjust="spacingAndGlyphs">Arginine and proline metabolism</text>
<line x1="424.20" y1="508.94" x2="426.00" y2="508.94" stroke="#333" stroke-width="0.6"/>
<text x="423.70" y="510.61" font-size="6.369" text-anchor="end" fill="#333" color="#333" font-weight="bold" style="stroke-width:0.05px" textLength="27.99" lengthAdjust="spacingAndGlyphs">Ribosome</text>
<line x1="424.20" y1="518.67" x2="426.00" y2="518.67" stroke="#333" stroke-width="0.6"/>
<text x="423.70" y="520.34" font-size="6.369" text-anchor="end" fill="#333" color="#333" font-weight="bold" style="stroke-width:0.05px" textLength="96.36" lengthAdjust="spacingAndGlyphs">Photosynthesis − antenna proteins</text>
<text x="442.80" y="529.70" font-size="5.0" text-anchor="middle" fill="#3a3a3a" color="#3a3a3a" font-weight="bold" textLength="8.2" lengthAdjust="spacingAndGlyphs">0.05</text>
<text x="462.45" y="529.70" font-size="5.0" text-anchor="middle" fill="#3a3a3a" color="#3a3a3a" font-weight="bold" textLength="8.2" lengthAdjust="spacingAndGlyphs">0.10</text>
<text x="482.10" y="529.70" font-size="5.0" text-anchor="middle" fill="#3a3a3a" color="#3a3a3a" font-weight="bold" textLength="8.2" lengthAdjust="spacingAndGlyphs">0.15</text>
<text x="501.75" y="529.70" font-size="5.0" text-anchor="middle" fill="#3a3a3a" color="#3a3a3a" font-weight="bold" textLength="8.2" lengthAdjust="spacingAndGlyphs">0.20</text>
<text x="521.40" y="529.70" font-size="5.0" text-anchor="middle" fill="#3a3a3a" color="#3a3a3a" font-weight="bold" textLength="8.2" lengthAdjust="spacingAndGlyphs">0.25</text>
<text x="474.35" y="536.60" font-size="5.0" text-anchor="middle" fill="#111" color="#111" font-weight="bold" textLength="25.0" lengthAdjust="spacingAndGlyphs">GeneRatio</text>
<text x="343.80" y="316.11" font-size="9.44" text-anchor="start" fill="#111" color="#111" font-weight="bold">statistics of KEGG enrichment</text>
<text x="75.60" y="10.40" font-size="10.0" text-anchor="start" fill="#111" color="#111" font-weight="bold">A</text>
<text x="41.20" y="310.50" font-size="9.6" text-anchor="start" fill="#111" color="#111" font-weight="bold">B</text>
<text x="296.00" y="307.10" font-size="9.6" text-anchor="start" fill="#111" color="#111" font-weight="bold">C</text>
<text x="0" y="0" font-size="9.1" font-weight="bold" fill="#111" color="#111" text-anchor="middle" transform="translate(13.7,144) rotate(-90)">Description</text>
<text x="512.50" y="103.04" font-size="6.0" text-anchor="start" fill="#111" color="#111" font-weight="bold">Count</text>
<circle cx="517.60" cy="109.70" r="2.20" fill="#000"/>
<text x="522.80" y="111.54" font-size="5.4" text-anchor="start" fill="#222" color="#222" font-weight="bold">10</text>
<circle cx="517.60" cy="118.30" r="2.60" fill="#000"/>
<text x="522.80" y="120.14" font-size="5.4" text-anchor="start" fill="#222" color="#222" font-weight="bold">20</text>
<circle cx="517.60" cy="127.40" r="3.10" fill="#000"/>
<text x="522.80" y="129.24" font-size="5.4" text-anchor="start" fill="#222" color="#222" font-weight="bold">30</text>
<circle cx="517.60" cy="136.00" r="3.40" fill="#000"/>
<text x="522.80" y="137.84" font-size="5.4" text-anchor="start" fill="#222" color="#222" font-weight="bold">40</text>
<circle cx="517.60" cy="145.10" r="3.80" fill="#000"/>
<text x="522.80" y="146.94" font-size="5.4" text-anchor="start" fill="#222" color="#222" font-weight="bold">50</text>
<text x="512.40" y="165.68" font-size="6.4" text-anchor="start" fill="#111" color="#111" font-weight="bold">padj</text>
<rect x="512.40" y="167.80" width="8.80" height="44.20" fill="url(#pg)" stroke="none" stroke-width="0"/>
<text x="523.80" y="172.57" font-size="5.8" text-anchor="start" fill="#222" color="#222" font-weight="bold">1.00</text>
<line x1="512.40" y1="170.60" x2="513.90" y2="170.60" stroke="#fff" stroke-width="0.4"/>
<line x1="519.70" y1="170.60" x2="521.20" y2="170.60" stroke="#fff" stroke-width="0.4"/>
<text x="523.80" y="181.57" font-size="5.8" text-anchor="start" fill="#222" color="#222" font-weight="bold">0.75</text>
<line x1="512.40" y1="179.60" x2="513.90" y2="179.60" stroke="#fff" stroke-width="0.4"/>
<line x1="519.70" y1="179.60" x2="521.20" y2="179.60" stroke="#fff" stroke-width="0.4"/>
<text x="523.80" y="191.97" font-size="5.8" text-anchor="start" fill="#222" color="#222" font-weight="bold">0.50</text>
<line x1="512.40" y1="190.00" x2="513.90" y2="190.00" stroke="#fff" stroke-width="0.4"/>
<line x1="519.70" y1="190.00" x2="521.20" y2="190.00" stroke="#fff" stroke-width="0.4"/>
<text x="523.80" y="202.37" font-size="5.8" text-anchor="start" fill="#222" color="#222" font-weight="bold">0.25</text>
<line x1="512.40" y1="200.40" x2="513.90" y2="200.40" stroke="#fff" stroke-width="0.4"/>
<line x1="519.70" y1="200.40" x2="521.20" y2="200.40" stroke="#fff" stroke-width="0.4"/>
<text x="523.80" y="212.47" font-size="5.8" text-anchor="start" fill="#222" color="#222" font-weight="bold">0.00</text>
<line x1="512.40" y1="210.50" x2="513.90" y2="210.50" stroke="#fff" stroke-width="0.4"/>
<line x1="519.70" y1="210.50" x2="521.20" y2="210.50" stroke="#fff" stroke-width="0.4"/>
<text x="247.80" y="383.37" font-size="4.9" text-anchor="start" fill="#111" color="#111" font-weight="bold">Count</text>
<circle cx="251.40" cy="388.50" r="0.70" fill="#000"/>
<text x="255.60" y="390.86" font-size="4.6" text-anchor="start" fill="#333" color="#333" font-weight="bold">5</text>
<circle cx="251.40" cy="395.90" r="1.60" fill="#000"/>
<text x="255.60" y="398.26" font-size="4.6" text-anchor="start" fill="#333" color="#333" font-weight="bold">10</text>
<circle cx="251.40" cy="403.10" r="2.00" fill="#000"/>
<text x="255.60" y="405.46" font-size="4.6" text-anchor="start" fill="#333" color="#333" font-weight="bold">15</text>
<circle cx="251.40" cy="410.50" r="2.35" fill="#000"/>
<text x="255.60" y="412.86" font-size="4.6" text-anchor="start" fill="#333" color="#333" font-weight="bold">20</text>
<circle cx="251.40" cy="417.70" r="2.65" fill="#000"/>
<text x="255.60" y="420.06" font-size="4.6" text-anchor="start" fill="#333" color="#333" font-weight="bold">25</text>
<text x="247.80" y="434.67" font-size="4.9" text-anchor="start" fill="#111" color="#111" font-weight="bold">padj</text>
<rect x="247.80" y="435.80" width="6.90" height="36.70" fill="url(#pg)" stroke="none" stroke-width="0"/>
<text x="256.50" y="440.46" font-size="4.6" text-anchor="start" fill="#333" color="#333" font-weight="bold">1.00</text>
<line x1="247.80" y1="438.20" x2="249.30" y2="438.20" stroke="#fff" stroke-width="0.4"/>
<line x1="253.20" y1="438.20" x2="254.70" y2="438.20" stroke="#fff" stroke-width="0.4"/>
<text x="256.50" y="447.86" font-size="4.6" text-anchor="start" fill="#333" color="#333" font-weight="bold">0.75</text>
<line x1="247.80" y1="445.60" x2="249.30" y2="445.60" stroke="#fff" stroke-width="0.4"/>
<line x1="253.20" y1="445.60" x2="254.70" y2="445.60" stroke="#fff" stroke-width="0.4"/>
<text x="256.50" y="456.26" font-size="4.6" text-anchor="start" fill="#333" color="#333" font-weight="bold">0.50</text>
<line x1="247.80" y1="454.00" x2="249.30" y2="454.00" stroke="#fff" stroke-width="0.4"/>
<line x1="253.20" y1="454.00" x2="254.70" y2="454.00" stroke="#fff" stroke-width="0.4"/>
<text x="256.50" y="464.76" font-size="4.6" text-anchor="start" fill="#333" color="#333" font-weight="bold">0.25</text>
<line x1="247.80" y1="462.50" x2="249.30" y2="462.50" stroke="#fff" stroke-width="0.4"/>
<line x1="253.20" y1="462.50" x2="254.70" y2="462.50" stroke="#fff" stroke-width="0.4"/>
<text x="256.50" y="473.06" font-size="4.6" text-anchor="start" fill="#333" color="#333" font-weight="bold">0.00</text>
<line x1="247.80" y1="470.80" x2="249.30" y2="470.80" stroke="#fff" stroke-width="0.4"/>
<line x1="253.20" y1="470.80" x2="254.70" y2="470.80" stroke="#fff" stroke-width="0.4"/>
<text x="528.40" y="387.27" font-size="4.9" text-anchor="start" fill="#111" color="#111" font-weight="bold">padj</text>
<rect x="528.40" y="388.80" width="6.70" height="36.30" fill="url(#pg)" stroke="none" stroke-width="0"/>
<text x="536.80" y="392.50" font-size="4.7" text-anchor="start" fill="#333" color="#333" font-weight="bold">1.00</text>
<line x1="528.40" y1="390.40" x2="529.90" y2="390.40" stroke="#fff" stroke-width="0.4"/>
<line x1="533.60" y1="390.40" x2="535.10" y2="390.40" stroke="#fff" stroke-width="0.4"/>
<text x="536.80" y="400.20" font-size="4.7" text-anchor="start" fill="#333" color="#333" font-weight="bold">0.75</text>
<line x1="528.40" y1="398.10" x2="529.90" y2="398.10" stroke="#fff" stroke-width="0.4"/>
<line x1="533.60" y1="398.10" x2="535.10" y2="398.10" stroke="#fff" stroke-width="0.4"/>
<text x="536.80" y="408.80" font-size="4.7" text-anchor="start" fill="#333" color="#333" font-weight="bold">0.50</text>
<line x1="528.40" y1="406.70" x2="529.90" y2="406.70" stroke="#fff" stroke-width="0.4"/>
<line x1="533.60" y1="406.70" x2="535.10" y2="406.70" stroke="#fff" stroke-width="0.4"/>
<text x="536.80" y="417.50" font-size="4.7" text-anchor="start" fill="#333" color="#333" font-weight="bold">0.25</text>
<line x1="528.40" y1="415.40" x2="529.90" y2="415.40" stroke="#fff" stroke-width="0.4"/>
<line x1="533.60" y1="415.40" x2="535.10" y2="415.40" stroke="#fff" stroke-width="0.4"/>
<text x="536.80" y="425.50" font-size="4.7" text-anchor="start" fill="#333" color="#333" font-weight="bold">0.00</text>
<line x1="528.40" y1="423.40" x2="529.90" y2="423.40" stroke="#fff" stroke-width="0.4"/>
<line x1="533.60" y1="423.40" x2="535.10" y2="423.40" stroke="#fff" stroke-width="0.4"/>
<text x="528.20" y="438.03" font-size="5.1" text-anchor="start" fill="#111" color="#111" font-weight="bold">Count</text>
<circle cx="532.10" cy="443.40" r="1.40" fill="#000"/>
<text x="536.50" y="445.53" font-size="4.8" text-anchor="start" fill="#333" color="#333" font-weight="bold">2.5</text>
<circle cx="532.10" cy="450.60" r="2.00" fill="#000"/>
<text x="536.50" y="452.73" font-size="4.8" text-anchor="start" fill="#333" color="#333" font-weight="bold">5.0</text>
<circle cx="532.10" cy="457.60" r="2.40" fill="#000"/>
<text x="536.50" y="459.73" font-size="4.8" text-anchor="start" fill="#333" color="#333" font-weight="bold">7.5</text>
<circle cx="532.10" cy="464.70" r="2.80" fill="#000"/>
<text x="536.50" y="466.83" font-size="4.8" text-anchor="start" fill="#333" color="#333" font-weight="bold">10.0</text>
</svg></div>
</body></html>
